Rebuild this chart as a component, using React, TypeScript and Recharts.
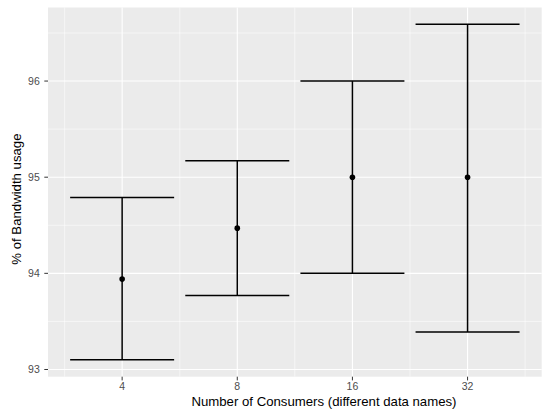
import React from "react";
import {
  ScatterChart,
  Scatter,
  XAxis,
  YAxis,
  CartesianGrid,
  ErrorBar,
} from "recharts";

// values
const consumers = [4, 8, 16, 32];
const means = [93.94, 94.47, 95.0, 95.0];
const lower = [93.1, 93.77, 94.0, 93.39];
const upper = [94.79, 95.17, 96.0, 96.59];

const xTicks = [4, 8, 16, 32];
const xMinor = [2.83, 5.66, 11.31, 22.63, 45.25];
const yTicks = [93, 94, 95, 96];
const yMinor = [93.5, 94.5, 95.5, 96.5];

const rows = consumers.map((c, i) => ({
  consumers: c,
  mean: means[i],
  err: [means[i] - lower[i], upper[i] - means[i]],
}));

const FONT = "'Liberation Sans', Arial, sans-serif";
const tickStyle = { fill: "#4D4D4D", fontSize: 10.5, fontFamily: FONT };

const Dot = (p: any) => <circle cx={p.cx} cy={p.cy} r={2.8} fill="#000" />;

export default function App() {
  return (
    <div style={{ position: "absolute", left: 0, top: 0, fontFamily: FONT }}>
      <ScatterChart
        width={550}
        height={416}
        margin={{ top: 7.5, right: 8.3, bottom: 0, left: 0 }}
      >
        <CartesianGrid
          fill="#EBEBEB"
          stroke="#FFFFFF"
          strokeWidth={0.55}
          horizontalValues={yMinor}
          verticalValues={xMinor}
        />
        <CartesianGrid
          stroke="#FFFFFF"
          strokeWidth={1.1}
          horizontalValues={yTicks}
          verticalValues={xTicks}
        />
        <XAxis
          type="number"
          dataKey="consumers"
          scale="log"
          domain={[2.56, 50.0]}
          ticks={xTicks}
          allowDataOverflow
          height={39.3}
          axisLine={false}
          tickLine={{ stroke: "#333333" }}
          tickSize={3.7}
          tickMargin={2}
          tick={tickStyle}
          label={({ viewBox }: any) => (
            <text
              x={viewBox.x + viewBox.width * 0.559}
              y={viewBox.y + viewBox.height - 10}
              textAnchor="middle"
              fill="#000"
              fontSize={13.2}
              fontFamily={FONT}
            >
              Number of Consumers (different data names)
            </text>
          )}
        />
        <YAxis
          type="number"
          dataKey="mean"
          domain={[92.925, 96.765]}
          ticks={yTicks}
          allowDataOverflow
          width={48}
          axisLine={false}
          tickLine={{ stroke: "#333333" }}
          tickSize={3.7}
          tickMargin={4.5}
          tick={tickStyle}
          label={({ viewBox }: any) => {
            const cy = viewBox.y + viewBox.height / 2 + 7;
            return (
              <text
                x={21.5}
                y={cy}
                transform={`rotate(-90 21.5 ${cy})`}
                textAnchor="middle"
                fill="#000"
                fontSize={13.2}
                fontFamily={FONT}
              >
                % of Bandwidth usage
              </text>
            );
          }}
        />
        <Scatter
          data={rows}
          dataKey="mean"
          shape={Dot}
          isAnimationActive={false}
        >
          <ErrorBar
            dataKey="err"
            direction="y"
            width={52}
            stroke="#000"
            strokeWidth={1.5}
            isAnimationActive={false}
          />
        </Scatter>
      </ScatterChart>
    </div>
  );
}
